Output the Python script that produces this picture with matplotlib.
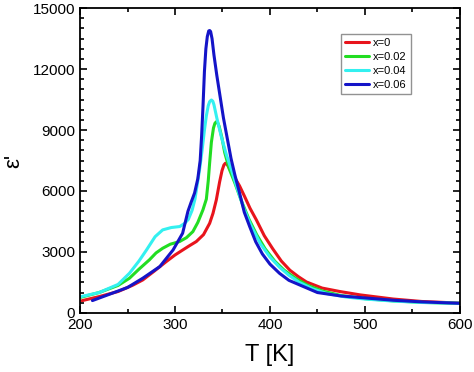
import matplotlib.pyplot as plt
from matplotlib.ticker import MultipleLocator

plt.rcParams['font.family'] = ['Liberation Sans', 'DejaVu Sans']

# x=0
t_red = [202, 220, 240, 255, 266, 278, 290.8, 300, 308.3, 315, 322.4, 330, 336.5, 340, 343.5, 347, 349.5, 351.5,
         353, 354.5, 356, 359.5, 363, 368, 373.4, 379, 385.7, 394, 403, 412, 421, 430, 438.5, 455, 473.7, 495,
         530, 560, 600]
e_red = [600, 800, 1050, 1350, 1620, 2050, 2525, 2850, 3100, 3300, 3510, 3850, 4410, 4900, 5560, 6450, 7000, 7280,
         7365, 7330, 7220, 6950, 6650, 6250, 5720, 5150, 4575, 3800, 3150, 2550, 2100, 1780, 1520, 1220, 1050, 885,
         680, 560, 480]

# x=0.02
t_green = [201, 220, 240, 252, 262, 273, 280, 287, 295, 304.8, 312, 318.8, 324, 329.4, 333, 335, 336.5, 338.3,
           340.5, 342, 343.5, 345, 346.5, 349.5, 352.3, 357, 363, 370, 378, 386, 395, 405, 415, 427, 440, 455,
           475, 500, 530, 560, 600]
e_green = [770, 1000, 1350, 1705, 2150, 2610, 2950, 3180, 3380, 3510, 3700, 4000, 4450, 5070, 5600, 6500, 7400, 8400,
           9100, 9330, 9410, 9350, 9180, 8600, 7900, 7100, 6400, 5500, 4600, 3850, 3150, 2550, 2100, 1700, 1350, 1080,
           850, 700, 590, 515, 470]

# x=0.04
t_cyan = [201, 220, 240, 252, 262, 270, 279, 287, 296, 305, 310, 314, 318, 321, 324, 326, 328.5, 331, 333,
          335, 336.5, 338.3, 339.8, 341, 344, 348.8, 354, 359.4, 365, 372, 380, 390, 400, 410, 420, 431, 445,
          460, 480, 500, 530, 560, 600]
e_cyan = [800, 1000, 1400, 1950, 2550, 3100, 3750, 4085, 4200, 4250, 4400, 4600, 5050, 5600, 6500, 7100, 8000, 9000, 9700,
          10200, 10400, 10480, 10420, 10250, 9600, 8670, 7800, 7040, 6200, 5200, 4300, 3400, 2750, 2250, 1850, 1500, 1180,
          950, 780, 680, 580, 510, 470]

# x=0.06
t_blue = [213, 230, 250, 266, 284, 298, 308, 313.6, 317, 320.6, 324, 326.5, 328, 329.5, 331, 332.5, 334, 335.5,
          336.5, 337.5, 339, 341, 344, 347, 351, 355.8, 359, 363, 368, 373, 378.7, 385, 392, 400, 410, 420, 431,
          450, 475, 495, 530, 560, 600]
e_blue = [605, 900, 1250, 1705, 2280, 3100, 3920, 5000, 5450, 5900, 6600, 7500, 8700, 10200, 11900, 13000, 13600, 13880,
          13900, 13850, 13500, 12700, 11700, 10800, 9600, 8400, 7600, 6800, 5900, 4950, 4245, 3500, 2900, 2400, 1950, 1600,
          1380, 1000, 830, 755, 620, 540, 470]

fig = plt.figure(figsize=(4.74, 3.72), dpi=100)
ax = fig.add_axes([0.169, 0.159, 0.801, 0.819])

style = dict(lw=2.2, solid_joinstyle='round', solid_capstyle='round')
ax.plot(t_red, e_red, color='#e8141c', label='x=0', **style)
ax.plot(t_green, e_green, color='#22dd22', label='x=0.02', **style)
ax.plot(t_cyan, e_cyan, color='#33f0f0', label='x=0.04', **style)
ax.plot(t_blue, e_blue, color='#1414c8', label='x=0.06', **style)

ax.set_xlim(200, 600)
ax.set_ylim(0, 15000)
ax.set_xticks([200, 300, 400, 500, 600])
ax.set_yticks([0, 3000, 6000, 9000, 12000, 15000])
ax.xaxis.set_minor_locator(MultipleLocator(50))
ax.yaxis.set_minor_locator(MultipleLocator(500))
ax.tick_params(which='both', direction='in', top=True, right=True, labelsize=11, width=1.2)
ax.tick_params(which='major', length=5)
ax.tick_params(which='minor', length=3)
ax.tick_params(axis='x', pad=4)
for s in ax.spines.values():
    s.set_linewidth(1.3)

ax.set_xlabel('T [K]', fontsize=17, labelpad=8)
ax.set_ylabel("ε'", fontsize=16, labelpad=6)

leg = ax.legend(loc='upper left', bbox_to_anchor=(0.687, 0.915), fontsize=8, frameon=True, fancybox=False,
                edgecolor='#777777', handlelength=2.2, handletextpad=0.35, borderpad=0.35, labelspacing=0.35,
                borderaxespad=0)
leg.get_frame().set_linewidth(1.0)

plt.savefig('out.png', dpi=100)
